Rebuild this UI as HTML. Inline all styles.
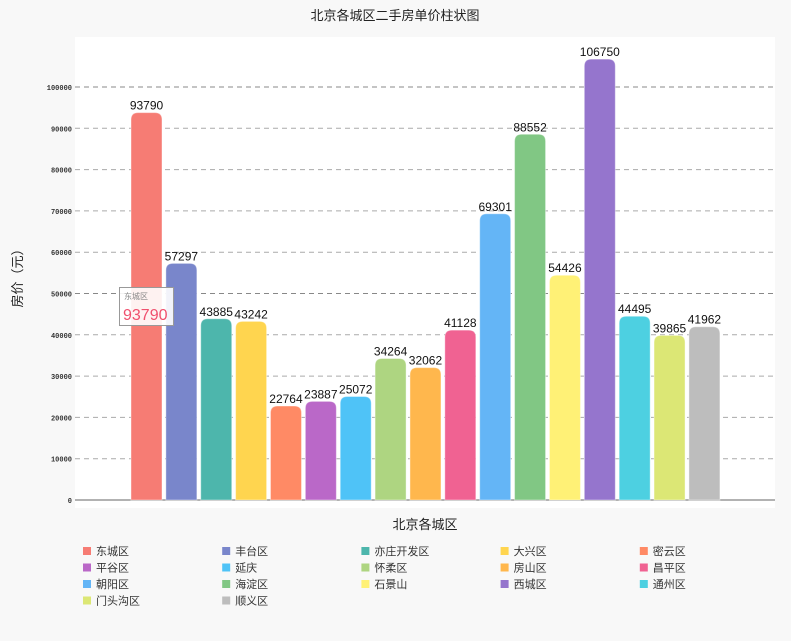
<!DOCTYPE html>
<html><head><meta charset="utf-8"><style>
body{margin:0;width:791px;height:636px;background:#f8f8f8;font-family:"Liberation Sans","Noto Sans CJK SC",sans-serif;overflow:hidden}
</style></head><body>
<svg id="chart" width="791" height="636" xmlns="http://www.w3.org/2000/svg" style="font-family:'Liberation Sans','Noto Sans CJK SC',sans-serif">
<rect x="0" y="0" width="791" height="636" fill="#f8f8f8"/>
<rect x="75" y="37" width="700" height="471" fill="#fff"/>
<text x="395" y="20" text-anchor="middle" font-size="13" fill="#222">北京各城区二手房单价柱状图</text>
<text transform="translate(22,275) rotate(-90)" text-anchor="middle" font-size="13" fill="#222">房价（元）</text>
<text x="425" y="529" text-anchor="middle" font-size="13" fill="#222">北京各城区</text>
<g id="grid"></g><g id="bars"></g><g id="legend"></g>
</svg>
<script>
const categories=["东城区","丰台区","亦庄开发区","大兴区","密云区","平谷区","延庆","怀柔区","房山区","昌平区","朝阳区","海淀区","石景山","西城区","通州区","门头沟区","顺义区"];
const values=[93790,57297,43885,43242,22764,23887,25072,34264,32062,41128,69301,88552,54426,106750,44495,39865,41962];
const colors=["#f67c74","#7986cb","#4db6ac","#ffd54f","#ff8a65","#ba68c8","#4fc3f7","#aed581","#ffb74d","#f06292","#64b5f6","#81c784","#fff176","#9575cd","#4dd0e1","#dce775","#bdbdbd"];
const yTicks=[0,10000,20000,30000,40000,50000,60000,70000,80000,90000,100000];
const NS="http://www.w3.org/2000/svg";
const y0=500,yTop=87;
const yScale=v=>y0-(v/100000)*(y0-yTop);
const xCenter=i=>146.5+i*34.87;
const bw=31;
function mk(tag,attrs,parent){const e=document.createElementNS(NS,tag);for(const k in attrs)e.setAttribute(k,attrs[k]);parent.appendChild(e);return e;}
const grid=document.getElementById('grid'),bars=document.getElementById('bars'),legend=document.getElementById('legend');
yTicks.forEach(t=>{
  const y=yScale(t);
  if(t>0){const l=mk('line',{x1:75,x2:775,y1:y,y2:y,stroke:t%50000===0?'#888':'#aaa','stroke-dasharray':'5,4','stroke-width':1},grid);
  
  }
  const tx=mk('text',{x:72,y:y+3,'text-anchor':'end','font-size':7,'font-family':'Liberation Mono, monospace','font-weight':'bold',fill:'#333'},grid);
  tx.textContent=t;
  
  
});
const ax=mk('line',{x1:75,x2:775,y1:y0,y2:y0,stroke:'#666','stroke-width':1},grid);


values.forEach((v,i)=>{
  const cx=xCenter(i),x=cx-bw/2,y=yScale(v),h=y0-y,r=7;
  const p=mk('path',{d:`M${x},${y0} V${y+r} Q${x},${y} ${x+r},${y} H${x+bw-r} Q${x+bw},${y} ${x+bw},${y+r} V${y0} Z`,fill:colors[i],stroke:'#fff','stroke-opacity':0.4},bars);
  
  
  const t=mk('text',{x:cx,y:y-3,'text-anchor':'middle','font-size':12,fill:'#111'},bars);
  t.textContent=v;
  
  
  const col=i%5,row=Math.floor(i/5);
  const lx=83+col*139.2,ly=551+row*16.5;
  const g=mk('g',{},legend);
  
  
  mk('rect',{x:lx,y:ly-4,width:8,height:8,fill:colors[i]},g);
  const lt=mk('text',{x:lx+13,y:ly+4,'font-size':11,fill:'#333'},g);
  lt.textContent=categories[i];
});
const tip=mk('g',{},bars);


mk('rect',{x:119.5,y:287.5,width:54,height:38,fill:'#fff','fill-opacity':0.9,stroke:'#999'},tip);
const t1=mk('text',{x:124,y:299,'font-size':8,fill:'#888'},tip);t1.textContent=categories[0];
const t2=mk('text',{x:123,y:320,'font-size':16,fill:'#f0506e'},tip);t2.textContent=values[0];
</script>
</body></html>
